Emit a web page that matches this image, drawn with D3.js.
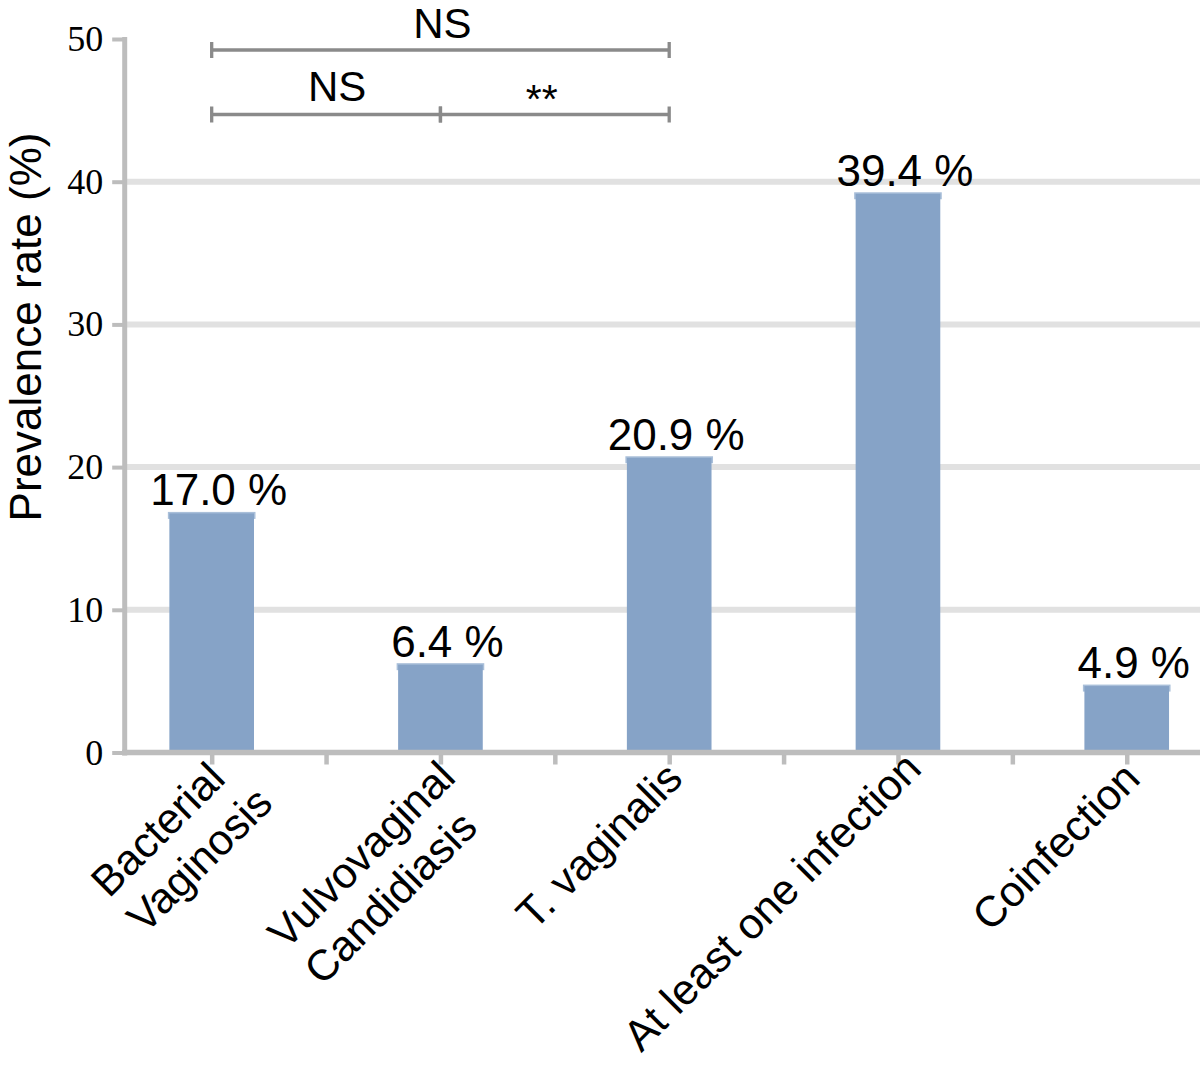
<!DOCTYPE html>
<html>
<head>
<meta charset="utf-8">
<script src="https://cdn.jsdelivr.net/npm/d3@7"></script>
<style>
  html, body { margin: 0; padding: 0; background: #fff; }
  svg { display: block; }
</style>
</head>
<body>
<script>
// ---- Data ----
const categories = ["Bacterial Vaginosis", "Vulvovaginal Candidiasis", "T. vaginalis", "At least one infection", "Coinfection"];
const labelLines = [["Bacterial", "Vaginosis"], ["Vulvovaginal", "Candidiasis"], ["T. vaginalis"], ["At least one infection"], ["Coinfection"]];
const values = [17.0, 6.4, 20.9, 39.4, 4.9];
const yTicks = [0, 10, 20, 30, 40, 50];
const gridTicks = [10, 20, 30, 40];
const compFrom = [0, 0, 1];
const compTo = [2, 1, 2];
const compLabel = ["NS", "NS", "**"];
const compLevel = [1, 0, 0];
const yTitle = "Prevalence rate (%)";

// ---- Layout / style ----
const W = 1200, H = 1069;
const SANS = "'Liberation Sans', Arial, Helvetica, sans-serif";
const SERIF = "'Liberation Serif', 'Times New Roman', Times, serif";
const AXIS_COLOR = "#bdbdbd";
const GRID_COLOR = "#e1e1e1";
const BAR_COLOR = "#86a3c7";
const CAP_COLOR = "#a9bfd9";
const BRACKET_COLOR = "#8a8a8a";
const annotDx = [2, 11, -13];
const labelDx = [12, -2, -4, 10, -4];

const svg = d3.select("body").append("svg").attr("width", W).attr("height", H);

const x = d3.scaleBand().domain(categories).range([97.3, 1241.1]).padding(0);
const step = x.step();
const bw = step * 0.37;
const cx = c => x(c) + step / 2;
const xi = d3.scaleLinear().domain([-0.5, categories.length - 0.5]).range([97.3, 1241.1]);
const y = d3.scaleLinear().domain([0, 50]).range([752.5, 39]);

// Gridlines
svg.append("g").selectAll("line").data(gridTicks).join("line")
  .attr("x1", 124).attr("x2", W)
  .attr("y1", d => y(d)).attr("y2", d => y(d))
  .attr("stroke", GRID_COLOR).attr("stroke-width", 6);

// Bars
const bars = svg.append("g");
categories.forEach((c, i) => {
  const top = y(values[i]) + 2;
  bars.append("rect")
    .attr("x", cx(c) - bw / 2 - 1.5).attr("width", bw + 3)
    .attr("y", top).attr("height", 7)
    .attr("fill", CAP_COLOR);
  bars.append("rect")
    .attr("x", cx(c) - bw / 2).attr("width", bw)
    .attr("y", top + 1.5).attr("height", y(0) - top - 1.5)
    .attr("fill", BAR_COLOR);
});

// Value labels
svg.append("g").selectAll("text").data(categories).join("text")
  .attr("x", c => cx(c) + 7)
  .attr("y", (c, i) => y(values[i]) - 4.5)
  .attr("text-anchor", "middle")
  .attr("font-family", SANS).attr("font-size", 44).attr("fill", "#000")
  .text((c, i) => d3.format(".1f")(values[i]) + " %");

// Y axis
const yAxis = svg.append("g").attr("transform", "translate(124.2,0)")
  .call(d3.axisLeft(y).tickValues(yTicks).tickSize(12).tickSizeOuter(0).tickPadding(9));
yAxis.select(".domain").attr("stroke", AXIS_COLOR).attr("stroke-width", 5).attr("stroke-linecap", "square");
yAxis.selectAll(".tick line").attr("stroke", AXIS_COLOR).attr("stroke-width", 4);
yAxis.selectAll(".tick text").attr("font-family", SERIF).attr("font-size", 36).attr("fill", "#000");

// X axis
const xAxis = svg.append("g").attr("transform", `translate(0,${y(0)})`)
  .call(d3.axisBottom(xi).tickValues(d3.range(0, categories.length - 0.99, 0.5)).tickSize(12).tickFormat(""));
xAxis.select(".domain").remove();
xAxis.selectAll(".tick line").attr("stroke", AXIS_COLOR).attr("stroke-width", 4.5);
svg.append("line").attr("x1", 122).attr("x2", W).attr("y1", y(0)).attr("y2", y(0))
  .attr("stroke", AXIS_COLOR).attr("stroke-width", 5.5);

// Category labels (rotated)
categories.forEach((c, i) => {
  const g = svg.append("g").attr("transform", `translate(${cx(c)},${y(0)}) rotate(-45)`);
  const t = g.append("text").attr("font-family", SANS).attr("font-size", 43).attr("fill", "#000");
  const spans = labelLines[i].map((ln, k) =>
    t.append("tspan").attr("y", 31 + k * 51).text(ln));
  const maxW = d3.max(spans, s => s.node().getComputedTextLength());
  spans.forEach(s => s.attr("x", labelDx[i] - 5 - maxW));
});

// Y title
svg.append("text")
  .attr("transform", "translate(41,327) rotate(-90)")
  .attr("text-anchor", "middle")
  .attr("font-family", SANS).attr("font-size", 44).attr("fill", "#000")
  .text(yTitle);

// Significance brackets
const levelY = [114.5, 50];
const br = svg.append("g").attr("stroke", BRACKET_COLOR).attr("stroke-width", 3.3).attr("fill", "none");
compFrom.forEach((f, k) => {
  const x1 = cx(categories[f]), x2 = cx(categories[compTo[k]]);
  const ly = levelY[compLevel[k]];
  br.append("line").attr("x1", x1).attr("x2", x2).attr("y1", ly).attr("y2", ly);
  [x1, x2].forEach(xx => br.append("line").attr("x1", xx).attr("x2", xx).attr("y1", ly - 8).attr("y2", ly + 8));
  svg.append("text")
    .attr("x", (x1 + x2) / 2 + annotDx[k])
    .attr("y", compLabel[k] === "**" ? ly - 1.5 : (compLevel[k] === 1 ? ly - 12.5 : ly - 13.5))
    .attr("text-anchor", "middle")
    .attr("font-family", SANS).attr("font-size", compLabel[k] === "**" ? 41 : 42).attr("fill", "#000")
    .text(compLabel[k]);
});
</script>
</body>
</html>
